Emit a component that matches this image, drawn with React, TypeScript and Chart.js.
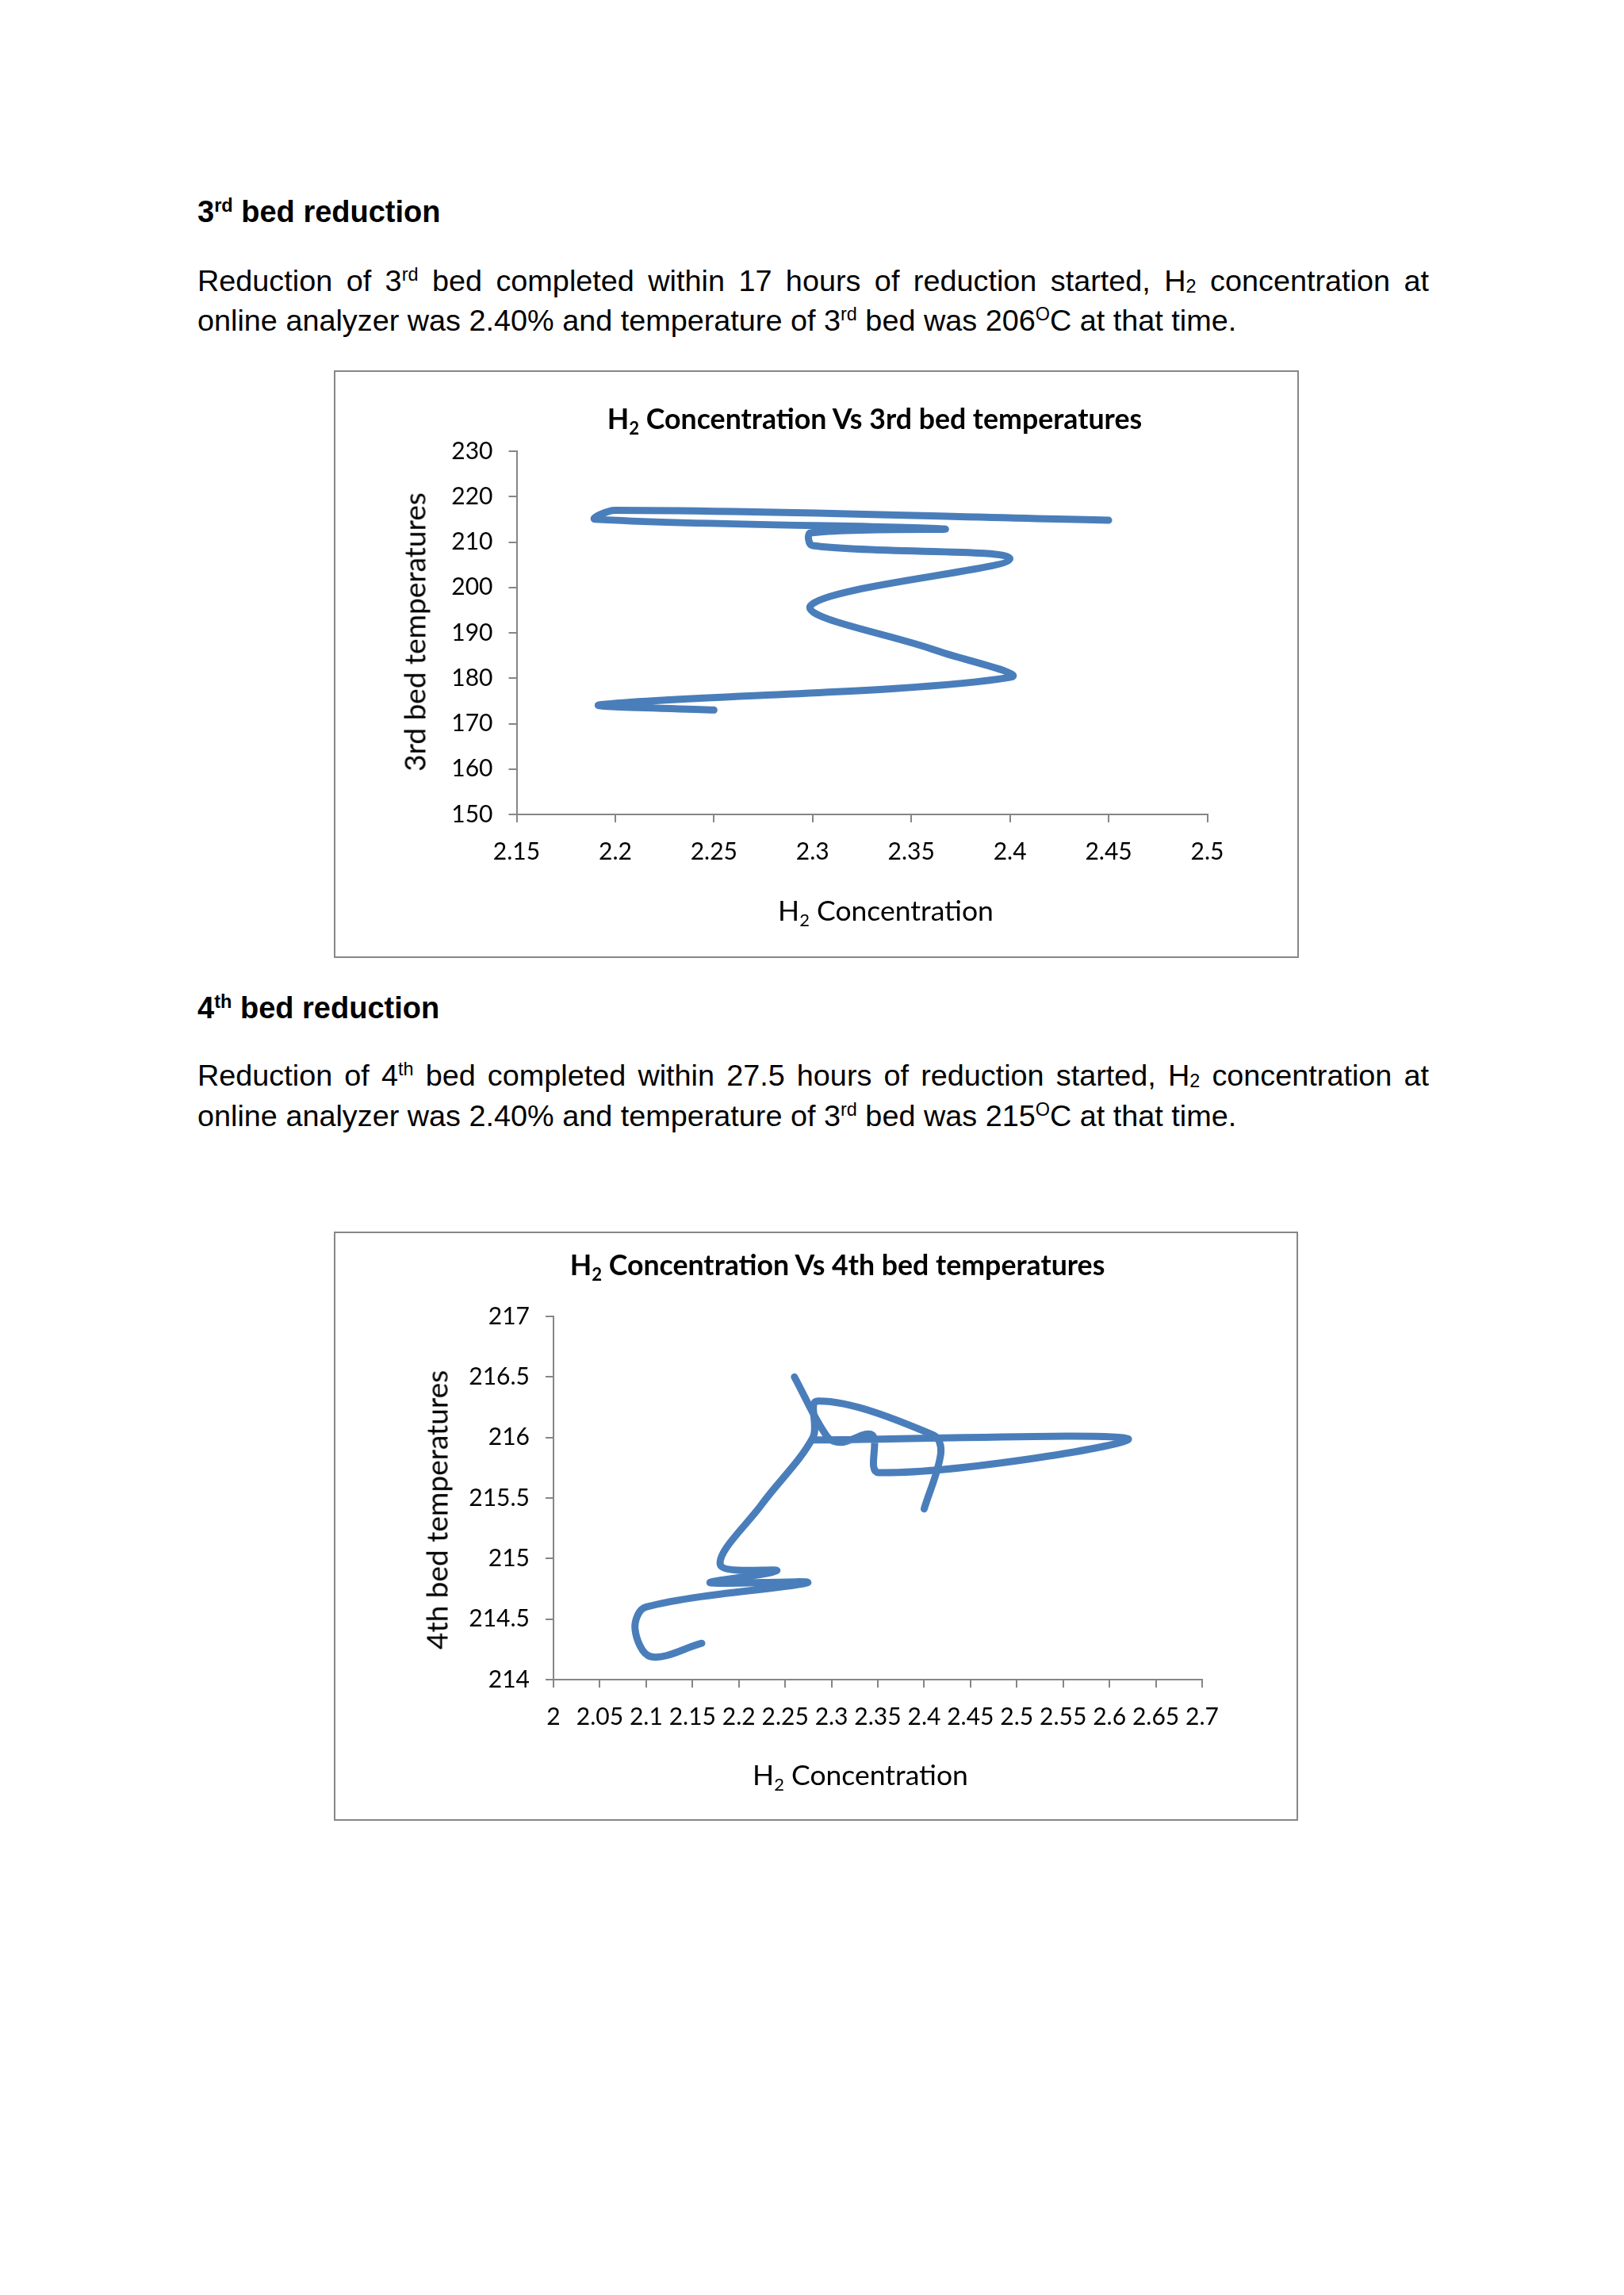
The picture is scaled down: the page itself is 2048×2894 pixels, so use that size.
import { useEffect, useRef } from "react";
import { Chart, registerables } from "chart.js";

Chart.register(...registerables);

// 3rd bed: H2 concentration (%) against bed temperature, in time order
const bed3H2 = [2.25, 2.193, 2.4, 2.362, 2.299, 2.4, 2.3, 2.299, 2.366, 2.19, 2.2, 2.45];
const bed3Temp = [173.0, 174.2, 180.2, 186.2, 196.0, 206.3, 209.2, 212.0, 212.9, 215.0, 217.0, 214.8];

// 4th bed, the trace comes in two runs
const bed4H2A = [2.16, 2.105, 2.088, 2.1, 2.274, 2.169, 2.241, 2.18, 2.225, 2.28, 2.285, 2.41, 2.418, 2.4];
const bed4TempA = [214.3, 214.19, 214.42, 214.6, 214.8, 214.8, 214.9, 214.95, 215.45, 216.0, 216.3, 216.02, 215.87, 215.41];
const bed4H2B = [2.26, 2.295, 2.31, 2.344, 2.351, 2.62, 2.28];
const bed4TempB = [216.5, 216.01, 215.96, 216.02, 215.71, 215.99, 215.98];

const bed3XTicks = [2.15, 2.2, 2.25, 2.3, 2.35, 2.4, 2.45, 2.5];
const bed3YTicks = [150, 160, 170, 180, 190, 200, 210, 220, 230];
const bed4XTicks = [2, 2.05, 2.1, 2.15, 2.2, 2.25, 2.3, 2.35, 2.4, 2.45, 2.5, 2.55, 2.6, 2.65, 2.7];
const bed4YTicks = [214, 214.5, 215, 215.5, 216, 216.5, 217];

const chartFont = "Lato, 'Noto Sans', sans-serif";
const bodyFont = "'Liberation Sans', Arial, sans-serif";
const axisColor = "#868686";

type Run = { x: number[]; y: number[] };
type Box = { left: number; top: number; right: number; bottom: number };

function CurveChart(props: {
  width: number;
  height: number;
  plot: Box;
  runs: Run[];
  xTicks: number[];
  yTicks: number[];
}) {
  const { width, height, plot, runs, xTicks, yTicks } = props;
  const canvasRef = useRef<HTMLCanvasElement | null>(null);

  useEffect(() => {
    if (!canvasRef.current) return;
    const tickFont = { family: chartFont, size: 30 };

    const chart = new Chart(canvasRef.current, {
      type: "scatter",
      data: {
        datasets: runs.map((r) => ({
          data: r.x.map((x, i) => ({ x, y: r.y[i] })),
          showLine: true,
          borderColor: "#4A7EBB",
          borderWidth: 9,
          borderCapStyle: "round" as const,
          borderJoinStyle: "round" as const,
          tension: 0.35,
          pointRadius: 0,
          pointHoverRadius: 0,
        })),
      },
      options: {
        animation: false,
        responsive: false,
        events: [],
        layout: {
          padding: { left: 0, top: plot.top, right: width - plot.right, bottom: 0 },
        },
        plugins: { legend: { display: false }, tooltip: { enabled: false } },
        scales: {
          x: {
            type: "linear",
            min: xTicks[0],
            max: xTicks[xTicks.length - 1],
            afterBuildTicks: (s: any) => {
              s.ticks = xTicks.map((v) => ({ value: v }));
            },
            afterFit: (s: any) => {
              s.height = height - plot.bottom;
            },
            ticks: {
              autoSkip: false,
              maxRotation: 0,
              minRotation: 0,
              padding: 19,
              color: "#000",
              font: tickFont,
              callback: (v: any) => String(v),
            },
            grid: { drawOnChartArea: false, drawTicks: true, tickLength: 10, color: axisColor, lineWidth: 2 },
            border: { color: axisColor, width: 2 },
          },
          y: {
            type: "linear",
            min: yTicks[0],
            max: yTicks[yTicks.length - 1],
            afterBuildTicks: (s: any) => {
              s.ticks = yTicks.map((v) => ({ value: v }));
            },
            afterFit: (s: any) => {
              s.width = plot.left;
            },
            ticks: {
              autoSkip: false,
              padding: 20,
              color: "#000",
              font: tickFont,
              callback: (v: any) => String(v),
            },
            grid: { drawOnChartArea: false, drawTicks: true, tickLength: 10, color: axisColor, lineWidth: 2 },
            border: { color: axisColor, width: 2 },
          },
        },
      },
    });

    return () => chart.destroy();
  }, [width, height, plot, runs, xTicks, yTicks]);

  return <canvas ref={canvasRef} width={width} height={height} style={{ display: "block" }} />;
}

const sub = { fontSize: "0.62em", verticalAlign: "-0.3em", lineHeight: 0 };
const sup = { fontSize: "0.62em", verticalAlign: "0.55em", lineHeight: 0 };

function Centered(props: { x: number; y: number; size: number; rotate?: boolean; bold?: boolean; children: any }) {
  return (
    <div
      style={{
        position: "absolute",
        left: props.x,
        top: props.y,
        transform: "translate(-50%, -50%)" + (props.rotate ? " rotate(-90deg)" : ""),
        whiteSpace: "nowrap",
        fontFamily: chartFont,
        fontSize: props.size,
        fontWeight: props.bold ? "bold" : "normal",
        lineHeight: 1,
        color: "#000",
      }}
    >
      {props.children}
    </div>
  );
}

function Line(props: { top: number; justify?: boolean; bold?: boolean; children: any }) {
  return (
    <div
      style={{
        position: "absolute",
        left: 241,
        top: props.top,
        width: 1553,
        fontFamily: bodyFont,
        fontSize: props.bold ? 38 : 37.8,
        fontWeight: props.bold ? "bold" : "normal",
        lineHeight: "50px",
        textAlign: props.justify ? "justify" : "left",
        textAlignLast: props.justify ? "justify" : "auto",
        color: "#000",
      }}
    >
      {props.children}
    </div>
  );
}

const bed3Runs = [{ x: bed3H2, y: bed3Temp }];
const bed4Runs = [
  { x: bed4H2A, y: bed4TempA },
  { x: bed4H2B, y: bed4TempB },
];
const bed3Plot = { left: 228.5, top: 100, right: 1099.5, bottom: 558 };
const bed4Plot = { left: 275, top: 105, right: 1093, bottom: 563 };

export default function App() {
  const frame = {
    position: "absolute" as const,
    left: 413,
    border: "2px solid #878787",
    boxSizing: "border-box" as const,
    background: "#fff",
  };

  return (
    <div style={{ position: "relative", width: 2032, height: 2878, background: "#fff" }}>
      <Line top={234} bold>
        3<span style={sup}>rd</span> bed reduction
      </Line>
      <Line top={321} justify>
        Reduction of 3<span style={sup}>rd</span> bed completed within 17 hours of reduction started, H
        <span style={{ fontSize: "0.62em", verticalAlign: "-0.1em", lineHeight: 0 }}>2</span> concentration at
      </Line>
      <Line top={371}>
        online analyzer was 2.40% and temperature of 3<span style={sup}>rd</span> bed was 206
        <span style={sup}>O</span>C at that time.
      </Line>

      <div style={{ ...frame, top: 459, width: 1217, height: 741 }}>
        <CurveChart width={1213} height={737} plot={bed3Plot} runs={bed3Runs} xTicks={bed3XTicks} yTicks={bed3YTicks} />
        <Centered x={680} y={59} size={35.7} bold>
          H<span style={sub}>2</span> Concentration Vs 3rd bed temperatures
        </Centered>
        <Centered x={99} y={328} size={37} rotate>
          3rd bed temperatures
        </Centered>
        <Centered x={694} y={679} size={35.5}>
          H<span style={sub}>2</span> Concentration
        </Centered>
      </div>

      <Line top={1238} bold>
        4<span style={sup}>th</span> bed reduction
      </Line>
      <Line top={1323} justify>
        Reduction of 4<span style={sup}>th</span> bed completed within 27.5 hours of reduction started, H
        <span style={{ fontSize: "0.62em", verticalAlign: "-0.1em", lineHeight: 0 }}>2</span> concentration at
      </Line>
      <Line top={1374}>
        online analyzer was 2.40% and temperature of 3<span style={sup}>rd</span> bed was 215
        <span style={sup}>O</span>C at that time.
      </Line>

      <div style={{ ...frame, top: 1545, width: 1216, height: 743 }}>
        <CurveChart width={1212} height={739} plot={bed4Plot} runs={bed4Runs} xTicks={bed4XTicks} yTicks={bed4YTicks} />
        <Centered x={633} y={40} size={35.7} bold>
          H<span style={sub}>2</span> Concentration Vs 4th bed temperatures
        </Centered>
        <Centered x={127} y={349} size={37} rotate>
          4th bed temperatures
        </Centered>
        <Centered x={662} y={683} size={35.5}>
          H<span style={sub}>2</span> Concentration
        </Centered>
      </div>
    </div>
  );
}
